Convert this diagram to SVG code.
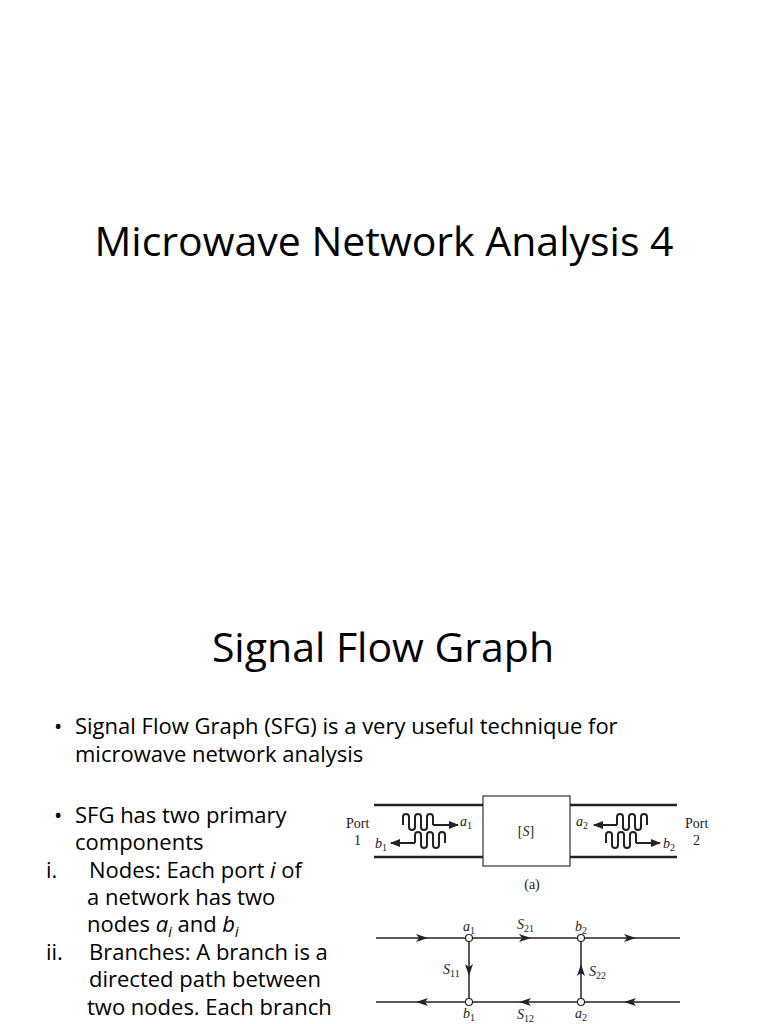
<svg xmlns="http://www.w3.org/2000/svg" width="768" height="1024" viewBox="0 0 768 1024">
<style>
.t{font-family:"Open Sans","Noto Sans",sans-serif;fill:#000}
.s{font-family:"Liberation Serif",serif;fill:#222}
.ln{stroke:#222;fill:none}
</style>
<defs>
<marker id="ar" markerWidth="10" markerHeight="8" refX="9" refY="4" orient="auto" markerUnits="userSpaceOnUse"><path d="M0,0L10,4L0,8z" fill="#222"/></marker>
<marker id="mid" markerWidth="12" markerHeight="8" refX="6" refY="4" orient="auto" markerUnits="userSpaceOnUse"><path d="M0,0L12,4L0,8L3,4z" fill="#222"/></marker>
<path id="wv" d="M0,0 v-8 a3,3 0 0 1 6,0 v10 a3,3 0 0 0 6,0 v-10 a3,3 0 0 1 6,0 v10 a3,3 0 0 0 6,0 v-10 a3,3 0 0 1 6,0 v8" class="ln" stroke-width="2"/>
</defs>
<rect width="768" height="1024" fill="#fff"/>
<text class="t" x="384" y="256" font-size="41" text-anchor="middle">Microwave Network Analysis 4</text>
<text class="t" x="383" y="662" font-size="41" text-anchor="middle">Signal Flow Graph</text>
<g class="t" font-size="22">
<text x="54" y="734">•</text><text x="75" y="734">Signal Flow Graph (SFG) is a very useful technique for</text>
<text x="75" y="762">microwave network analysis</text>
<text x="54" y="823">•</text><text x="75" y="823">SFG has two primary</text>
<text x="75" y="850">components</text>
<text x="46" y="878">i.</text><text x="89" y="878">Nodes: Each port <tspan font-style="italic">i</tspan> of</text>
<text x="87" y="905">a network has two</text>
<text x="87" y="932">nodes <tspan font-style="italic">a</tspan><tspan font-style="italic" font-size="14" dy="5">i</tspan><tspan dy="-5"> and </tspan><tspan font-style="italic">b</tspan><tspan font-style="italic" font-size="14" dy="5">i</tspan></text>
<text x="46" y="960">ii.</text><text x="89" y="960">Branches: A branch is a</text>
<text x="89" y="987">directed path between</text>
<text x="87" y="1015">two nodes. Each branch</text>
</g>
<g id="network">
<rect x="483" y="796" width="87" height="70" fill="#fff" stroke="#333" stroke-width="1.2"/>
<text class="s" x="526" y="836" font-size="14" text-anchor="middle">[<tspan font-style="italic">S</tspan>]</text>
<path class="ln" stroke-width="2.5" d="M374,805H483M374,857H483M570,805H677M570,857H677"/>
<use href="#wv" x="403" y="825"/>
<path class="ln" stroke-width="2" d="M433,825H458" marker-end="url(#ar)"/>
<use href="#wv" transform="translate(445,843) scale(-1,1)"/>
<path class="ln" stroke-width="2" d="M415,843H391" marker-end="url(#ar)"/>
<use href="#wv" transform="translate(647,825) scale(-1,1)"/>
<path class="ln" stroke-width="2" d="M617,825H594" marker-end="url(#ar)"/>
<use href="#wv" x="606" y="843"/>
<path class="ln" stroke-width="2" d="M636,843H660" marker-end="url(#ar)"/>
<g class="s" font-size="14">
<text x="346" y="828">Port</text><text x="354" y="845">1</text>
<text x="685" y="828">Port</text><text x="693" y="845">2</text>
<text x="460" y="826" font-style="italic">a<tspan font-size="10" dy="3" font-style="normal">1</tspan></text>
<text x="375" y="848" font-style="italic">b<tspan font-size="10" dy="3" font-style="normal">1</tspan></text>
<text x="576" y="826" font-style="italic">a<tspan font-size="10" dy="3" font-style="normal">2</tspan></text>
<text x="663" y="848" font-style="italic">b<tspan font-size="10" dy="3" font-style="normal">2</tspan></text>
<text x="532" y="889" text-anchor="middle">(a)</text>
</g>
</g>
<g id="connectors" class="ln" stroke-width="1.5">
<path d="M376,938L422,938L469,938" marker-mid="url(#mid)"/>
<path d="M469,938L525,938L581,938" marker-mid="url(#mid)"/>
<path d="M581,938L630,938L680,938" marker-mid="url(#mid)"/>
<path d="M469,938L469,970L469,1002" marker-mid="url(#mid)"/>
<path d="M581,1002L581,970L581,938" marker-mid="url(#mid)"/>
<path d="M680,1002L630,1002L581,1002" marker-mid="url(#mid)"/>
<path d="M581,1002L525,1002L469,1002" marker-mid="url(#mid)"/>
<path d="M469,1002L422,1002L376,1002" marker-mid="url(#mid)"/>
</g>
<g id="nodes" fill="#fff" stroke="#222" stroke-width="1.2">
<circle id="a1" cx="469" cy="938" r="3.5"/><circle id="b2" cx="581" cy="938" r="3.5"/>
<circle id="b1" cx="469" cy="1002" r="3.5"/><circle id="a2" cx="581" cy="1002" r="3.5"/>
</g>
<g class="s" font-size="14" font-style="italic">
<text x="463" y="931">a<tspan font-size="10" dy="3" font-style="normal">1</tspan></text>
<text x="575" y="931">b<tspan font-size="10" dy="3" font-style="normal">2</tspan></text>
<text x="463" y="1018">b<tspan font-size="10" dy="3" font-style="normal">1</tspan></text>
<text x="575" y="1018">a<tspan font-size="10" dy="3" font-style="normal">2</tspan></text>
<text x="517" y="929">S<tspan font-size="10" dy="3" font-style="normal">21</tspan></text>
<text x="517" y="1019">S<tspan font-size="10" dy="3" font-style="normal">12</tspan></text>
<text x="443" y="974">S<tspan font-size="10" dy="3" font-style="normal">11</tspan></text>
<text x="589" y="976">S<tspan font-size="10" dy="3" font-style="normal">22</tspan></text>
</g>
</svg>
